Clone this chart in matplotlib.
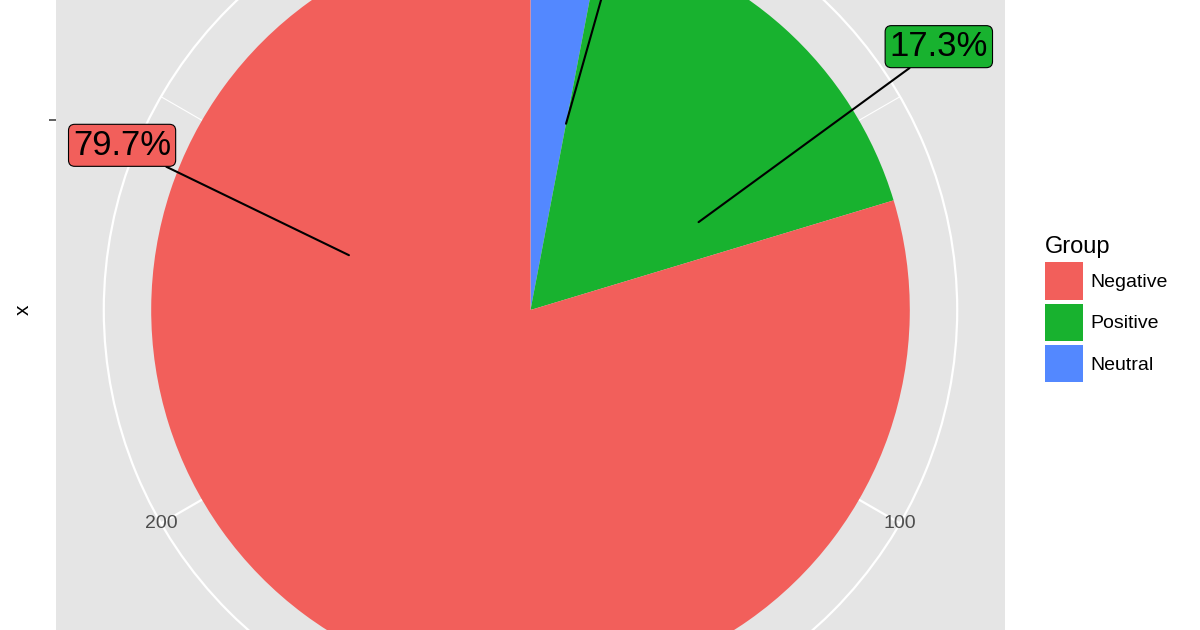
import numpy as np
import matplotlib
matplotlib.use("Agg")
import matplotlib.pyplot as plt
from matplotlib.patches import Patch

# ---- data ----
groups = ["Negative", "Positive", "Neutral"]
counts = [239, 52, 9]
colors = ["#F25F5B", "#18B22F", "#5388FF"]
stack_order = ["Neutral", "Positive", "Negative"]   # clockwise from top
theta_major = [0, 100, 200]
theta_minor = [50, 150, 250]
theta_major_labels = ["", "100", "200"]

total = sum(counts)
pct_labels = [f"{100 * c / total:.1f}%" for c in counts]

# label box placement (ggrepel result): (theta in count units, radius)
label_pos = {"Negative": (243.3, 1.161), "Positive": (47.65, 1.281), "Neutral": (11.2, 1.06)}

plt.rcParams["font.family"] = ["Liberation Sans", "DejaVu Sans"]
W, H = 1200, 630
fig = plt.figure(figsize=(12, 6.3), dpi=100)

# centre & sizes in pixels
cx, cy = 530.5, 310.0
R = 379.3             # pie radius (0.4 of panel)
panel = R / 0.4

def fx(px): return px / W
def fy(py): return 1 - py / H

# background panel
axb = fig.add_axes([fx(cx - panel / 2), fy(cy + panel / 2), panel / W, panel / H])
axb.set_facecolor("#E5E5E5")
axb.set_xlim(-1.25, 1.25)
axb.set_ylim(-1.25, 1.25)
for s in axb.spines.values():
    s.set_visible(False)
axb.set_xticks([])
axb.set_yticks([0.5])
axb.set_yticklabels([""])
axb.tick_params(axis="y", length=5, width=1.1, color="#333333")
axb.set_ylabel("x", fontsize=15, color="black")
axb.yaxis.set_label_coords((33 - (cx - panel / 2)) / panel, 0.5)

# polar axes
Ro = R * 1.125
axp = fig.add_axes([fx(cx - Ro), fy(cy + Ro), 2 * Ro / W, 2 * Ro / H], projection="polar")
axp.set_facecolor("none")
axp.set_theta_zero_location("N")
axp.set_theta_direction(-1)
axp.set_ylim(0, 1.125)
axp.set_yticks([])
axp.spines["polar"].set_color("white")
axp.spines["polar"].set_linewidth(1.6)

to_theta = lambda v: 2 * np.pi * np.asarray(v, dtype=float) / total
axp.set_xticks(to_theta(theta_major))
axp.set_xticks(to_theta(theta_minor), minor=True)
axp.set_xticklabels([])
axp.grid(True, which="major", axis="x", color="white", linewidth=1.6)
axp.grid(True, which="minor", axis="x", color="white", linewidth=0.8)
axp.tick_params(axis="x", which="both", length=0)
axp.set_axisbelow(True)

start = 0
color_of = dict(zip(groups, colors))
count_of = dict(zip(groups, counts))
pct_of = dict(zip(groups, pct_labels))
for g in stack_order:
    c = count_of[g]
    axp.bar(to_theta(start), 1.0, width=to_theta(c), bottom=0, align="edge",
            color=color_of[g], linewidth=0, zorder=2)
    start += c

for v, lab in zip(theta_major, theta_major_labels):
    if lab:
        axp.text(to_theta(v), 1.125, lab, ha="center", va="center",
                 fontsize=14, color="#4D4D4D", zorder=5)

for g in groups:
    t, r = label_pos[g]
    axp.annotate(pct_of[g], xy=(to_theta(count_of[g]), 0.5), xytext=(to_theta(t), r),
                 ha="center", va="center", fontsize=25,
                 family=["Liberation Sans Narrow", "Liberation Sans", "DejaVu Sans"],
                 bbox=dict(boxstyle="round,pad=0.13,rounding_size=0.18",
                           fc=color_of[g], ec="black", lw=0.8),
                 arrowprops=dict(arrowstyle="-", color="black", lw=1.5,
                                 shrinkA=0, shrinkB=0),
                 annotation_clip=False, zorder=6)

handles = [Patch(facecolor=color_of[g], edgecolor="none", label=g) for g in groups]
fig.legend(handles=handles, title="Group", loc="upper left",
           bbox_to_anchor=(fx(1045), fy(236)), frameon=False, fontsize=14,
           title_fontsize=17, handlelength=1.93, handleheight=2.59,
           handletextpad=0.38, labelspacing=0.2, borderpad=0, borderaxespad=0,
           alignment="left")
fig.legends[0]._legend_box.sep = 3

fig.savefig("out.png", dpi=100)
